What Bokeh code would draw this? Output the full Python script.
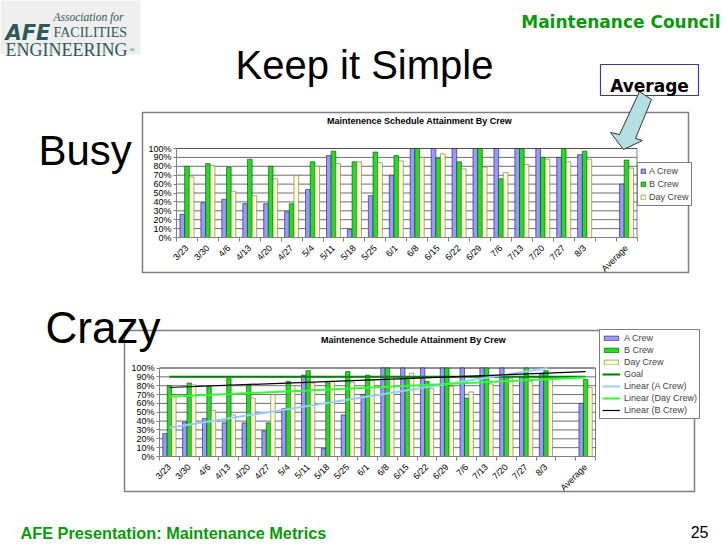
import numpy as np
from bokeh.plotting import figure
from bokeh.models import (Range1d, LinearAxis, FixedTicker, NumeralTickFormatter, Label,
                          Legend, LegendItem, ColumnDataSource)
from bokeh.transform import dodge
from bokeh.core.properties import value
from bokeh.embed import file_html
from bokeh.resources import INLINE

# ---------------- data ----------------
categories = ["3/23", "3/30", "4/6", "4/13", "4/20", "4/27", "5/4", "5/11", "5/18", "5/25",
              "6/1", "6/8", "6/15", "6/22", "6/29", "7/6", "7/13", "7/20", "7/27", "8/3",
              "", "Average"]
a_crew = [26, 39, 43, 38, 38, 29, 54, 92, 9, 47, 70, 100, 100, 100, 100, 100, 100, 100, 90, 93, None, 60]
b_crew = [80, 83, 79, 88, 80, 38, 85, 97, 85, 96, 92, 100, 89, 85, 100, 66, 100, 90, 100, 97, None, 87]
day_crew = [68, 81, 52, 47, 66, 70, 80, 83, 85, 84, 86, 90, 94, 77, 79, 73, 82, 88, 85, 88, None, 78]
goal = [90, 90, 90, 90, 90, 90, 90, 90, 90, 90, 90, 90, 90, 90, 90, 90, 90, 90, 90, 90, 90, 90]
y_ticks = [0, 10, 20, 30, 40, 50, 60, 70, 80, 90, 100]
series_names = ["A Crew", "B Crew", "Day Crew"]
chart_title = "Maintenence Schedule Attainment By Crew"

FONT = "Liberation Sans"
n = len(categories)
PW, PH = 728, 546


def frac(vals):
    return [np.nan if v is None else v / 100.0 for v in vals]


src = ColumnDataSource(dict(idx=list(range(n)), a=frac(a_crew), b=frac(b_crew),
                            d=frac(day_crew), goal=frac(goal)))

# slide canvas: data coords == slide pixel coords (y downward)
p = figure(width=PW, height=PH, x_range=Range1d(0, PW), y_range=Range1d(PH, 0),
           output_backend="svg", toolbar_location=None,
           x_axis_location=None, y_axis_location=None, min_border=0)
p.outline_line_color = None
p.xgrid.visible = False
p.ygrid.visible = False
p.background_fill_color = "white"
p.border_fill_color = "white"

# logo background
p.quad(left=[0], right=[140], top=[0], bottom=[54], fill_color="#efefef", line_color=None)


def lab(x, y, text, size, color="black", style="normal", align="left", baseline="alphabetic", font=FONT):
    p.add_layout(Label(x=x, y=y, text=text, text_font=font, text_font_size=size,
                       text_font_style=style, text_color=color, text_align=align,
                       text_baseline=baseline))


# ---------------- slide texts ----------------
LOGO = "#2f5858"
lab(5, 32, "AFE", "21px", color=LOGO, style="bold italic", font="DejaVu Sans")
lab(53, 16, "Association for", "11.5px", color=LOGO, style="italic", font="Liberation Serif")
lab(53, 32, "FACILITIES", "14px", color=LOGO, font="Liberation Serif")
lab(5, 49, "ENGINEERING", "18px", color=LOGO, font="Liberation Serif")
lab(129, 49, "®", "7px", color=LOGO, font="Liberation Serif")
lab(720, 21.5, "Maintenance Council", "17px", color="#0a9a0a", style="bold", align="right", font="DejaVu Sans")
lab(364, 64, "Keep it Simple", "40px", align="center")
lab(38, 150, "Busy", "42px")
lab(45, 327, "Crazy", "44px")
lab(20, 532, "AFE Presentation: Maintenance Metrics", "16.3px", color="#0a9a0a", style="bold")
lab(708, 531, "25", "16px", align="right")

legend_fmt = dict(label_text_font=FONT, label_text_font_size="9px", border_line_color="black",
                  border_line_width=1, background_fill_color="white", background_fill_alpha=1.0,
                  margin=0)


def chart(key, box, plot_px, title_xy, legend_box, full):
    L, T, R, B = plot_px
    w = (R - L) / n
    xr, yr = key + "_x", key + "_y"
    p.extra_x_ranges[xr] = Range1d((0 - L) / w - 0.5, (PW - L) / w - 0.5)
    p.extra_y_ranges[yr] = Range1d((B - PH) / (B - T), (B - 0) / (B - T))
    rk = dict(x_range_name=xr, y_range_name=yr)

    # chart area
    p.quad(left=[box[0]], right=[box[2]], top=[box[1]], bottom=[box[3]],
           fill_color="white", line_color="#7f7f7f", line_width=1.5)
    # plot area
    p.quad(left=[-0.5], right=[n - 0.5], bottom=[0], top=[1], fill_color="white",
           line_color="#808080", line_width=1, **rk)
    tf = [t / 100.0 for t in y_ticks]
    p.segment(x0=-0.5, x1=n - 0.5, y0=tf[1:], y1=tf[1:], line_color="#4a4a4a",
              line_width=0.8, **rk)

    bw = 0.223
    cols = ["#9999ff", "#22dd22", "#ffffcc"]
    outl = ["#1a1a4a", "#104010", "#6a6a5a"]
    rends = []
    for j, (fld, c, oc) in enumerate(zip(["a", "b", "d"], cols, outl)):
        r = p.vbar(x=dodge("idx", (j - 1) * bw), top=fld, bottom=0, width=bw, source=src,
                   fill_color=c, line_color=oc, line_width=0.6, **rk)
        rends.append(r)

    items = [LegendItem(label=value(nm), renderers=[r]) for nm, r in zip(series_names, rends)]

    if full:
        gr = p.line(x="idx", y="goal", source=src, line_color="#008000", line_width=2, **rk)
        tr = {}
        for fld, vals in [("a", a_crew), ("d", day_crew), ("b", b_crew)]:
            xs = np.array([i for i, v in enumerate(vals) if v is not None], dtype=float)
            ys = np.array([v / 100.0 for v in vals if v is not None])
            k, c0 = np.polyfit(xs, ys, 1)
            x1 = n - 1
            if c0 + k * x1 > 1.0:          # clip the trendline at the plot area top
                x1 = (1.0 - c0) / k
            tr[fld] = ([0, x1], [c0, c0 + k * x1])
        la = p.line(x=tr["a"][0], y=tr["a"][1], line_color="#99ccff", line_width=2, **rk)
        ld = p.line(x=tr["d"][0], y=tr["d"][1], line_color="#33ff33", line_width=2, **rk)
        lb = p.line(x=tr["b"][0], y=tr["b"][1], line_color="black", line_width=1.2, **rk)
        items += [LegendItem(label=value("Goal"), renderers=[gr]),
                  LegendItem(label=value("Linear (A Crew)"), renderers=[la]),
                  LegendItem(label=value("Linear (Day Crew)"), renderers=[ld]),
                  LegendItem(label=value("Linear (B Crew)"), renderers=[lb])]
        leg = Legend(items=items, location=(legend_box[0], PH - legend_box[3]),
                     glyph_width=18, glyph_height=6, label_height=12, spacing=0,
                     padding=2, label_standoff=4, **legend_fmt)
    else:
        leg = Legend(items=items, location=(legend_box[0], PH - legend_box[3]),
                     glyph_width=6, glyph_height=6, label_height=12, spacing=1,
                     padding=2, label_standoff=3, **legend_fmt)
    p.add_layout(leg)

    # axes
    yax = LinearAxis(fixed_location=-0.5, ticker=FixedTicker(ticks=tf),
                     formatter=NumeralTickFormatter(format="0%"), bounds=(0, 1), **rk)
    yax.axis_line_color = "#808080"
    yax.major_tick_line_color = "#808080"
    yax.major_tick_out = 3
    yax.major_tick_in = 0
    yax.minor_tick_line_color = None
    yax.major_label_standoff = 2
    yax.major_label_text_font = FONT
    yax.major_label_text_font_size = "9px"
    yax.major_label_text_color = "black"
    p.add_layout(yax, "left")

    xax = LinearAxis(fixed_location=0,
                     ticker=FixedTicker(ticks=list(range(n)),
                                        minor_ticks=[i - 0.5 for i in range(n + 1)]),
                     major_label_overrides={i: c for i, c in enumerate(categories)},
                     bounds=(-0.5, n - 0.5), **rk)
    xax.axis_line_color = "#808080"
    xax.major_tick_line_color = None
    xax.minor_tick_line_color = "#808080"
    xax.minor_tick_out = 4
    xax.minor_tick_in = 0
    xax.major_label_orientation = np.pi / 4
    xax.major_label_standoff = 3
    xax.major_label_text_font = FONT
    xax.major_label_text_font_size = "9px"
    xax.major_label_text_color = "black"
    p.add_layout(xax, "below")

    lab(title_xy[0], title_xy[1], chart_title, "9px", style="bold", align="center",
        baseline="middle")


chart("top", (142, 112, 688, 272), (176, 148, 636.5, 237), (419, 120), (637, 165, 686, 206), False)
chart("bot", (124, 330, 694, 491), (159, 367.5, 595, 456), (413, 339), (599, 330, 694, 419), True)

# "Average" callout
p.quad(left=[600], right=[698], top=[64], bottom=[95], fill_color="white",
       line_color="#3c3c96", line_width=1.2)
lab(649, 85.5, "Average", "17px", style="bold", align="center", font="DejaVu Sans")
p.patch(x=[639, 651, 635, 642, 623, 610, 619], y=[91, 99, 138, 140, 149, 132, 134],
        fill_color="#b4e0e4", line_color="#333333", line_width=1)

open("out.html", "w").write(file_html(p, INLINE))
